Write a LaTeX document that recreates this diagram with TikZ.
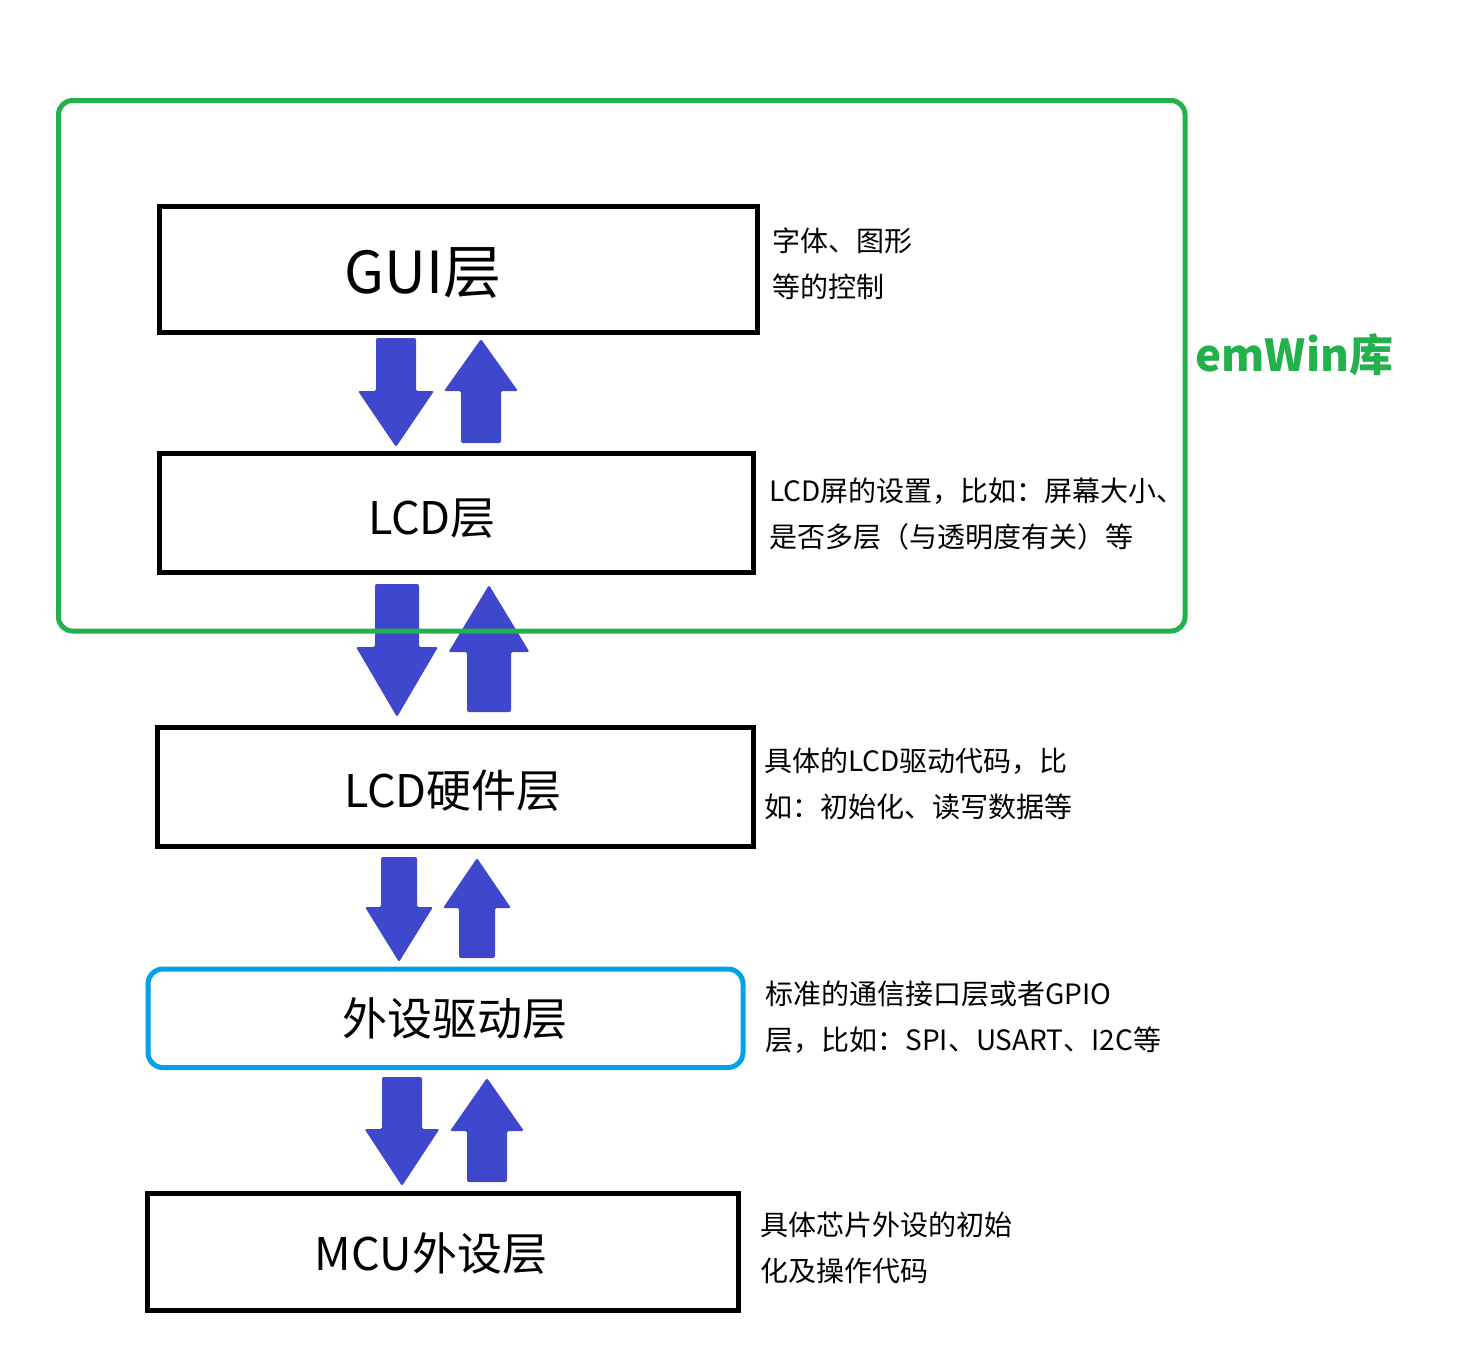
\documentclass[tikz,border=0pt]{standalone}
\usepackage{fontspec}
\setmainfont{Noto Sans CJK SC}
\usepackage{tikz}
\usetikzlibrary{fit}

\definecolor{libgreen}{HTML}{22B14C}
\definecolor{drvblue}{HTML}{00A2E8}
\definecolor{arrowblue}{HTML}{3F48CC}

\tikzset{
    layerbox/.style={draw=black, line width=2.5pt, inner sep=0pt},
    layertext/.style={inner sep=0pt, font=\fontsize{22.5}{27}\selectfont},
    note/.style={inner sep=0pt, anchor=west, align=left, font=\fontsize{14}{23}\selectfont},
    blockarrow/.style={fill=arrowblue, rounded corners=1pt}
}

% x, tail y, head base y, tip y, shaft half width, head half width
\newcommand{\fatarrow}[6]{
    \fill[blockarrow] (#1-#5,#2) -- (#1+#5,#2) -- (#1+#5,#3) -- (#1+#6,#3) -- (#1,#4) -- (#1-#6,#3) -- (#1-#5,#3) -- cycle;
}

\begin{document}
\begin{tikzpicture}[x=0.5pt, y=-0.5pt]
    \useasboundingbox (0,0) rectangle (1480,1362);

    \node[layerbox, fit={(159.5,206.5) (757,332.5)}] (gui) {};
    \node[layertext, font=\fontsize{29}{34}\selectfont] (guitext) at (423,273) {GUI层};

    \node[layerbox, fit={(159.5,453.5) (753,572.5)}] (lcd) {};
    \node[layertext] (lcdtext) at (432,519) {LCD层};

    \node[layerbox, fit={(157.5,727.5) (753,846.5)}] (lcdhw) {};
    \node[layertext] (lcdhwtext) at (453,791) {LCD硬件层};

    \node[draw=drvblue, line width=2.5pt, rounded corners=7.5pt, inner sep=0pt, fit={(148,969) (743,1067.5)}] (periph) {};
    \node[layertext] (periphtext) at (455,1019) {外设驱动层};

    \node[layerbox, fit={(147.5,1193.5) (738,1310)}] (mcu) {};
    \node[layertext] (mcutext) at (431,1254) {MCU外设层};

    % arrows between the layers
    \fatarrow{396}{338}{391}{447}{20}{38}
    \fatarrow{481}{443}{391}{339}{20}{37}
    \fatarrow{397}{584}{647}{717}{22}{41}
    \fatarrow{489}{712}{652}{585}{22}{40.5}
    \fatarrow{399}{857}{907}{962}{18}{34}
    \fatarrow{477}{958}{908}{858}{18}{34}
    \fatarrow{402}{1077}{1129}{1186}{20}{37.5}
    \fatarrow{487}{1182}{1131}{1078}{20}{37}

    % emWin
    \node[draw=libgreen, line width=2.5pt, rounded corners=7pt, inner sep=0pt, fit={(58.5,100.5) (1185,631)}] (emwin) {};
    \node[inner sep=0pt, anchor=west, text=libgreen, font=\fontsize{22}{26}\selectfont\bfseries] (emwintext) at (1195,355) {emWin库};

    \node[note] (guinote) at (772,264) {字体、图形\\等的控制};
    \node[note] (lcdnote) at (769,514) {LCD屏的设置，比如：屏幕大小、\\是否多层（与透明度有关）等};
    \node[note] (lcdhwnote) at (764,784) {具体的LCD驱动代码，比\\如：初始化、读写数据等};
    \node[note] (periphnote) at (765,1017) {标准的通信接口层或者GPIO\\层，比如：SPI、USART、I2C等};
    \node[note] (mcunote) at (760,1248) {具体芯片外设的初始\\化及操作代码};

\end{tikzpicture}
\end{document}
